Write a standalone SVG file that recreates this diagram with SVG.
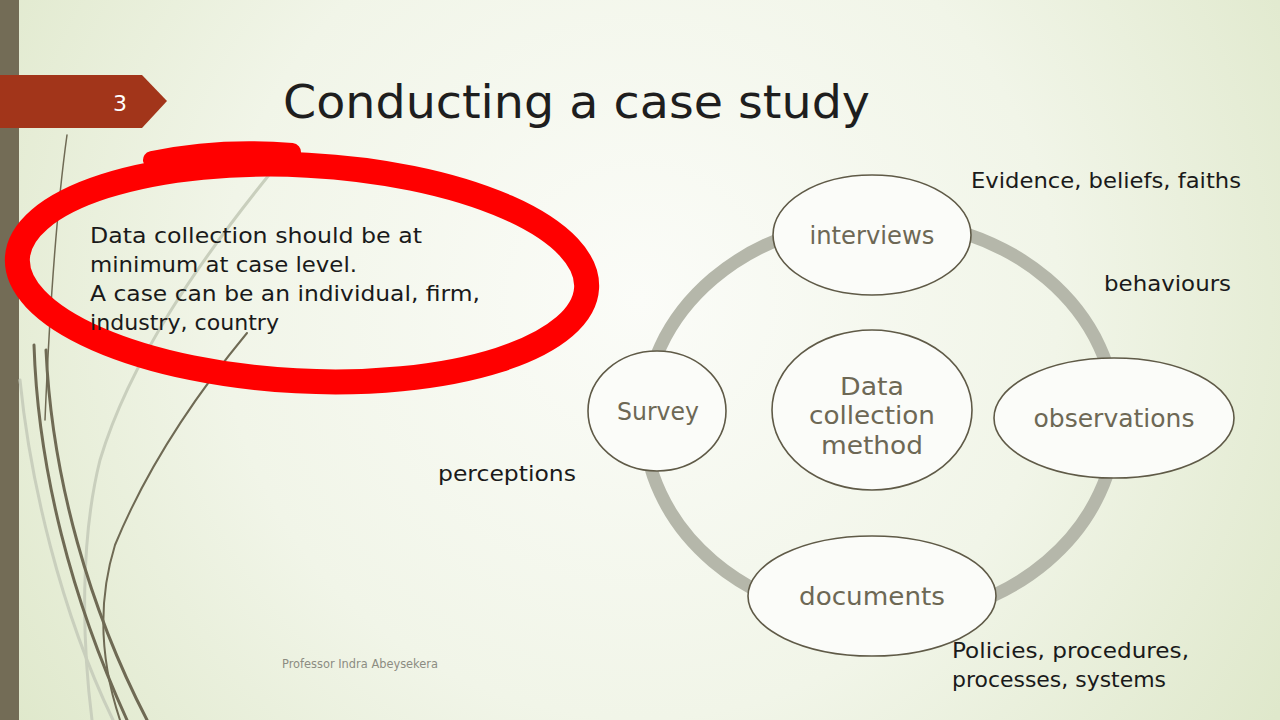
<svg xmlns="http://www.w3.org/2000/svg" width="1280" height="720" viewBox="0 0 1280 720">
<defs>
<radialGradient id="bg" cx="640" cy="300" r="760" gradientUnits="userSpaceOnUse">
<stop offset="0" stop-color="#fbfcf8"/>
<stop offset="0.55" stop-color="#f1f5e8"/>
<stop offset="1" stop-color="#dfe8cb"/>
</radialGradient>
<style>
.body{font-family:"DejaVu Sans","Liberation Sans",sans-serif;fill:#1a1a1a}
.node{fill:#fbfcf9;stroke:#5f5a47;stroke-width:1.6}
.nt{font-family:"DejaVu Sans","Liberation Sans",sans-serif;fill:#6d6855;font-size:25px;text-anchor:middle}
.dk{fill:none;stroke:#6f6a54;stroke-linecap:round}
.lt{fill:none;stroke:#c9cfbd;stroke-linecap:round}
</style>
</defs>
<rect width="1280" height="720" fill="url(#bg)"/>
<rect x="0" y="0" width="19" height="720" fill="#736c56"/>

<g id="decor">
<path class="lt" stroke-width="3" d="M20 380 C30 480 60 610 113 720"/>
<path class="lt" stroke-width="3" d="M273 170 C200 260 130 360 100 460 C80 540 82 640 92 720"/>
<path class="dk" stroke-width="1.5" d="M67 135 C58 200 50 300 45 420"/>
<path class="dk" stroke-width="3" d="M34 345 C38 470 72 600 127 720"/>
<path class="dk" stroke-width="3" d="M46 350 C52 480 90 610 147 720"/>
<path class="dk" stroke-width="2" d="M247 333 C200 390 150 460 115 545 C98 600 100 660 120 720"/>
</g>

<g id="slide-number">
<path d="M0 75 H142 L167 101 L142 128 H0 Z" fill="#a2351a"/>
<text x="113" y="111" font-family="DejaVu Sans, Liberation Sans, sans-serif" font-size="22" fill="#ffffff">3</text>
</g>

<text id="title" x="283" y="118" font-family="DejaVu Sans, Liberation Sans, sans-serif" font-size="46" fill="#1e1e1e" textLength="587" lengthAdjust="spacingAndGlyphs">Conducting a case study</text>

<g id="annotation">
<ellipse cx="302" cy="273" rx="285" ry="108" transform="rotate(3 302 273)" fill="none" stroke="#ff0000" stroke-width="25"/>
<path d="M152 160 Q220 146 292 152" fill="none" stroke="#ff0000" stroke-width="18" stroke-linecap="round"/>
</g>

<g id="body-text" class="body" font-size="22">
<text x="90" y="243" textLength="332" lengthAdjust="spacingAndGlyphs">Data collection should be at</text>
<text x="90" y="272" textLength="267" lengthAdjust="spacingAndGlyphs">minimum at case level.</text>
<text x="90" y="301" textLength="390" lengthAdjust="spacingAndGlyphs">A case can be an individual, firm,</text>
<text x="90" y="330" textLength="189" lengthAdjust="spacingAndGlyphs">industry, country</text>
</g>

<g id="connectors">
<ellipse cx="880" cy="420" rx="236" ry="200" fill="none" stroke="#b5b7aa" stroke-width="13"/>
</g>

<g id="node-interviews">
<ellipse class="node" cx="872" cy="235" rx="99" ry="60"/>
<text class="nt" x="872" y="244" textLength="125" lengthAdjust="spacingAndGlyphs">interviews</text>
</g>
<g id="node-survey">
<ellipse class="node" cx="657" cy="411" rx="69" ry="60"/>
<text class="nt" x="658" y="420" textLength="82" lengthAdjust="spacingAndGlyphs">Survey</text>
</g>
<g id="node-center">
<ellipse class="node" cx="872" cy="410" rx="100" ry="80"/>
<text class="nt" x="872" y="395" textLength="64" lengthAdjust="spacingAndGlyphs">Data</text>
<text class="nt" x="872" y="424" textLength="126" lengthAdjust="spacingAndGlyphs">collection</text>
<text class="nt" x="872" y="454" textLength="102" lengthAdjust="spacingAndGlyphs">method</text>
</g>
<g id="node-observations">
<ellipse class="node" cx="1114" cy="418" rx="120" ry="60"/>
<text class="nt" x="1114" y="427" textLength="161" lengthAdjust="spacingAndGlyphs">observations</text>
</g>
<g id="node-documents">
<ellipse class="node" cx="872" cy="596" rx="124" ry="60"/>
<text class="nt" x="872" y="605" textLength="146" lengthAdjust="spacingAndGlyphs">documents</text>
</g>

<g id="labels" class="body" font-size="22">
<text x="971" y="188" textLength="270" lengthAdjust="spacingAndGlyphs">Evidence, beliefs, faiths</text>
<text x="1104" y="291" textLength="127" lengthAdjust="spacingAndGlyphs">behaviours</text>
<text x="438" y="481" textLength="138" lengthAdjust="spacingAndGlyphs">perceptions</text>
<text x="952" y="658" textLength="237" lengthAdjust="spacingAndGlyphs">Policies, procedures,</text>
<text x="952" y="687" textLength="214" lengthAdjust="spacingAndGlyphs">processes, systems</text>
</g>

<text id="footer" x="282" y="668" font-family="DejaVu Sans, Liberation Sans, sans-serif" font-size="11.5" fill="#8c8c82" textLength="156" lengthAdjust="spacingAndGlyphs">Professor Indra Abeysekera</text>
</svg>
